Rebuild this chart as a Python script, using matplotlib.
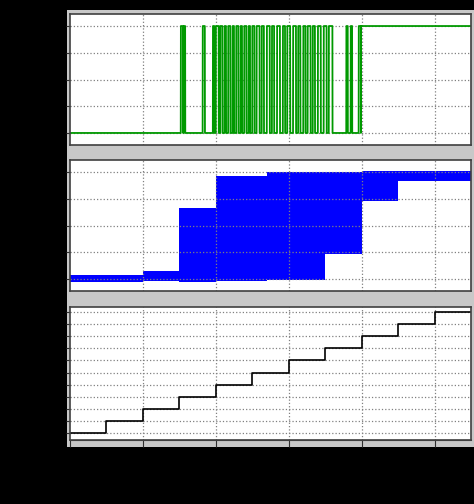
import numpy as np
import matplotlib
matplotlib.use("Agg")
import matplotlib.pyplot as plt

# top panel: times where the green signal toggles (starts low)
toggle_times = [1.52, 1.55, 1.56, 1.58, 1.82, 1.85, 1.96, 1.98, 2.00, 2.04,
                2.06, 2.09, 2.12, 2.14, 2.17, 2.20, 2.23, 2.25, 2.28, 2.31,
                2.34, 2.36, 2.39, 2.42, 2.45, 2.47, 2.50, 2.53, 2.56, 2.60,
                2.63, 2.66, 2.70, 2.74, 2.77, 2.80, 2.84, 2.88, 2.92, 2.95,
                2.98, 3.02, 3.06, 3.10, 3.13, 3.16, 3.20, 3.23, 3.26, 3.30,
                3.33, 3.36, 3.40, 3.44, 3.48, 3.52, 3.55, 3.60, 3.79, 3.81,
                3.85, 3.87, 3.96, 3.99]
top_low, top_high = 0.0, 4.0

# middle panel: blue band segments (start, end, lower, upper)
seg_start = [0.0, 1.0, 1.5, 2.0, 2.7, 3.5, 4.0, 4.5]
seg_end = [1.0, 1.5, 2.0, 2.7, 3.5, 4.0, 4.5, 5.5]
seg_lo = [-0.12, -0.08, -0.1, -0.08, -0.05, 0.95, 2.9, 3.65]
seg_hi = [0.15, 0.3, 2.65, 3.85, 4.0, 4.0, 4.05, 4.05]

# bottom panel: staircase
stair_t = [0.0, 0.5, 1.0, 1.5, 2.0, 2.5, 3.0, 3.5, 4.0, 4.5, 5.0, 5.5]
stair_v = [0, 1, 2, 3, 4, 5, 6, 7, 8, 9, 10, 10]

W, H = 474, 504
fig = plt.figure(figsize=(W / 100, H / 100), dpi=100, facecolor="black")
bg = fig.add_axes([67 / W, 1 - 447 / H, (W - 67) / W, 437 / H], zorder=-5)
bg.set_facecolor("#c8c8c8")
bg.set_xticks([])
bg.set_yticks([])
for s in bg.spines.values():
    s.set_visible(False)

def make_ax(y0, y1):
    ax = fig.add_axes([70 / W, 1 - y1 / H, 401 / W, (y1 - y0) / H])
    ax.set_facecolor("white")
    for s in ax.spines.values():
        s.set_color("#404040")
        s.set_linewidth(1.2)
    ax.grid(True, color="#808080", linestyle=":", linewidth=0.9)
    ax.set_xlim(0, 5.5)
    ax.set_xticks([1, 2, 3, 4, 5])
    ax.tick_params(labelbottom=False, labelleft=False, bottom=False,
                   direction="out", length=3, color="#303030")
    return ax

ax1 = make_ax(14, 145)
t = np.linspace(0, 5.5, 5501)
state = np.searchsorted(np.array(toggle_times), t, side="right") % 2
state[t > 3.99] = 1
y1 = np.where(state == 1, top_high, top_low)
ax1.plot(t, y1, color="#009900", linewidth=1.3)
ax1.set_ylim(-0.45, 4.45)
ax1.set_yticks([0, 1, 2, 3, 4])

ax2 = make_ax(160, 291)
for a, b, lo, hi in zip(seg_start, seg_end, seg_lo, seg_hi):
    ax2.fill_between([a, b], [lo, lo], [hi, hi], color="#0000ff", linewidth=0)
ax2.set_ylim(-0.45, 4.45)
ax2.set_yticks([0, 1, 2, 3, 4])

ax3 = make_ax(307, 440)
ax3.step(stair_t, stair_v, where="post", color="black", linewidth=1.2)
ax3.set_ylim(-0.55, 10.4)
ax3.set_yticks(range(11))

axs = fig.add_axes([70 / W, 1 - 447 / H, 401 / W, 7 / H])
axs.set_facecolor("#c8c8c8")
axs.set_xlim(0, 5.5)
axs.set_ylim(0, 1)
axs.set_xticks([0, 1, 2, 3, 4, 5])
axs.set_yticks([])
axs.tick_params(direction="in", length=5, color="#303030", labelbottom=False, top=False)
for s in axs.spines.values():
    s.set_visible(False)
axs.spines["top"].set_visible(True)
axs.spines["top"].set_color("#404040")

fig.savefig("out.png", dpi=100, facecolor="black")
